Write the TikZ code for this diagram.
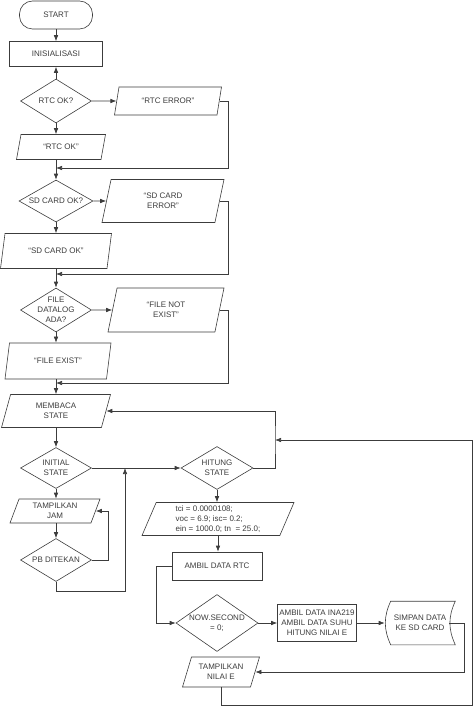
\documentclass[tikz,border=0pt]{standalone}
\usepackage{fontspec}
\setmainfont{Liberation Sans}
\usetikzlibrary{arrows.meta,shapes.geometric,calc}
\definecolor{FlowGray}{RGB}{60,60,60}

\begin{document}
\begin{tikzpicture}[x=1pt,y=-1pt,font=\fontsize{8}{9.8}\selectfont,
  every node/.style={text=FlowGray,draw=FlowGray,line width=0.6pt,align=center},
  term/.style={rectangle,rounded corners=13pt,minimum width=73pt,minimum height=28pt},
  proc/.style={rectangle,inner xsep=1pt,inner ysep=2pt},
  io/.style={trapezium,trapezium left angle=65,trapezium right angle=115,
    trapezium stretches body,inner sep=2pt},
  dec/.style={diamond,aspect=1.6,inner sep=-10pt},
  arr/.style={draw=FlowGray,line width=0.6pt,-{Latex[length=6pt,width=4.5pt]}},
  lin/.style={draw=FlowGray,line width=0.6pt}]
\useasboundingbox (0,0) rectangle (474,706);

% left column
\node[term] (start) at (56,15) {START};
\node[proc,minimum width=93pt,minimum height=25pt] (init) at (56,54) {INISIALISASI};
\node[dec,minimum width=71pt,minimum height=44pt] (rtc) at (56,101) {RTC OK?};
\node[io,minimum width=107pt,minimum height=28pt] (rtcerr) at (168,101) {“RTC ERROR”};
\node[io,minimum width=89pt,minimum height=25pt] (rtcok) at (61,147) {“RTC OK”};
\node[dec,minimum width=74pt,minimum height=42pt] (sd) at (56,201) {SD CARD OK?};
\node[io,minimum width=122pt,minimum height=43pt] (sderr) at (163,201) {“SD CARD\\ERROR”};
\node[io,minimum width=111pt,minimum height=35pt] (sdok) at (56,251) {“SD CARD OK”};
\node[dec,minimum width=71pt,minimum height=44pt] (file) at (56,310) {FILE\\DATALOG\\ADA?};
\node[io,minimum width=116pt,minimum height=44pt] (filenot) at (166,310) {“FILE NOT\\EXIST”};
\node[io,minimum width=106pt,minimum height=36pt] (fileex) at (58,361) {“FILE EXIST”};
\node[io,minimum width=109pt,minimum height=33pt] (baca) at (56,411) {MEMBACA\\STATE};
\node[dec,minimum width=71pt,minimum height=41pt] (initial) at (56,468) {INITIAL\\STATE};
\node[io,minimum width=90pt,minimum height=24pt] (jam) at (55,511) {TAMPILKAN\\JAM};
\node[dec,minimum width=71pt,minimum height=43pt] (pb) at (56,560) {PB DITEKAN};

% right part
\node[dec,minimum width=72pt,minimum height=43pt] (hitung) at (217,468) {HITUNG\\STATE};
\node[io,minimum width=152pt,minimum height=33pt,align=left] (konst) at (218,519)
  {tci = 0.0000108;\\voc = 6.9; isc= 0.2;\\ein = 1000.0; tn~~= 25.0;};
\node[proc,minimum width=90pt,minimum height=28pt] (rtcdata) at (217,566) {AMBIL DATA RTC};
\node[dec,minimum width=82pt,minimum height=57pt] (detik) at (217,623) {NOW.SECOND\\= 0;};
\node[proc,minimum width=79pt,minimum height=37pt] (ina) at (317,623)
  {AMBIL DATA INA219\\AMBIL DATA SUHU\\HITUNG NILAI E};
\node[draw=none,minimum width=70pt,minimum height=43pt] (simpan) at (420,623) {SIMPAN DATA\\KE SD CARD};
\draw[lin] ([xshift=6pt]simpan.north west) -- (simpan.north east)
  to[bend right=25] (simpan.south east) -- ([xshift=6pt]simpan.south west)
  to[bend left=25] cycle;
\node[io,minimum width=77pt,minimum height=30pt] (nilai) at (221,672) {TAMPILKAN\\NILAI E};

\coordinate (j1) at (56,168);
\coordinate (j2) at (56,274);
\coordinate (j3) at (56,383);
\coordinate (j4) at (125,468);
\coordinate (j5) at (275,440);

% connectors
\draw[arr] (start) -- (init);
\draw[arr] (rtc.north) -- (init.south);
\foreach \d/\e/\o/\j/\n in {rtc/rtcerr/rtcok/j1/sd, sd/sderr/sdok/j2/file, file/filenot/fileex/j3/baca}{
  \draw[arr] (\d) -- (\e);
  \draw[arr] (\d.south) -- (\d.south |- \o.north);
  \draw[arr] (\e.right side) -| ($(\j)+(172,0)$) -- (\j);
  \draw[arr] (\n.north |- \o.south) -- (\n.north);
}
\draw[arr] (baca.south -| initial.north) -- (initial.north);
\draw[arr] (initial) -- (hitung);
\draw[arr] (initial.south) -- (initial.south |- jam.north);
\draw[arr] (pb.north |- jam.south) -- (pb.north);
\draw[arr] (pb.east) -- ++(16,0) |- (jam.right side);
\draw[arr] (pb.south) -- ++(0,9) -| (j4);
\draw[arr] (hitung.east) -| (j5) |- (baca.right side);
\draw[arr] (hitung.south) -- (hitung.south |- konst.north);
\draw[arr] (konst.south) -- (konst.south |- rtcdata.north);
\draw[arr] (rtcdata.west) -- ++(-15,0) |- (detik.west);
\draw[arr] (detik) -- (ina);
\draw[arr] (ina) -- (simpan.west);
\draw[arr] ([xshift=-6pt]simpan.east) -- ++(15,0) |- (nilai.right side);
\draw[arr] (nilai.south) |- (472,705) |- (j5);
\end{tikzpicture}
\end{document}
